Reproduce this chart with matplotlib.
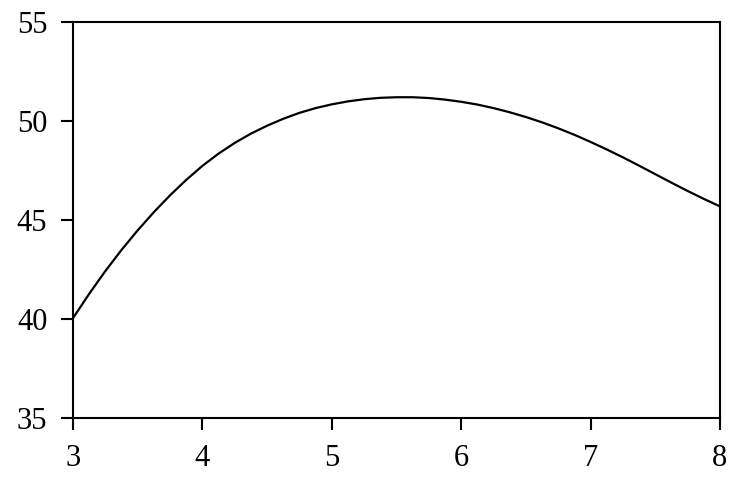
import matplotlib
matplotlib.use("Agg")
import matplotlib.pyplot as plt

x_vals = [3.0, 3.125, 3.25, 3.375, 3.5, 3.625, 3.75, 3.875, 4.0, 4.125, 4.25,
          4.375, 4.5, 4.625, 4.75, 4.875, 5.0, 5.125, 5.25, 5.375, 5.5,
          5.625, 5.75, 5.875, 6.0, 6.125, 6.25, 6.375, 6.5, 6.625, 6.75,
          6.875, 7.0, 7.125, 7.25, 7.375, 7.5, 7.625, 7.75, 7.875, 8.0]
y_vals = [40.05, 41.28, 42.43, 43.50, 44.49, 45.41, 46.26, 47.04, 47.75, 48.37, 48.91,
          49.38, 49.78, 50.13, 50.43, 50.67, 50.86, 51.01, 51.12, 51.19, 51.22,
          51.22, 51.18, 51.10, 50.99, 50.85, 50.67, 50.46, 50.22, 49.95, 49.65,
          49.32, 48.96, 48.58, 48.18, 47.76, 47.33, 46.90, 46.48, 46.08, 45.70]
x_ticks = [3, 4, 5, 6, 7, 8]
y_ticks = [35, 40, 45, 50, 55]

plt.rcParams['font.family'] = ['Liberation Serif', 'DejaVu Serif']
fig = plt.figure(figsize=(7.51, 4.94), dpi=100)
ax = fig.add_axes([0.0972, 0.1538, 0.8615, 0.8007])
ax.plot(x_vals, y_vals, color='black', lw=1.6, solid_capstyle='butt',
        solid_joinstyle='round')
ax.set_xlim(3, 8)
ax.set_ylim(35, 55)
ax.set_xticks(x_ticks)
ax.set_yticks(y_ticks)
for s in ax.spines.values():
    s.set_linewidth(1.5)
    s.set_color('black')
ax.tick_params(direction='out', length=8.5, width=1.5, labelsize=22, pad=10,
               top=False, right=False, colors='black')
fig.savefig('out.png', dpi=100)
